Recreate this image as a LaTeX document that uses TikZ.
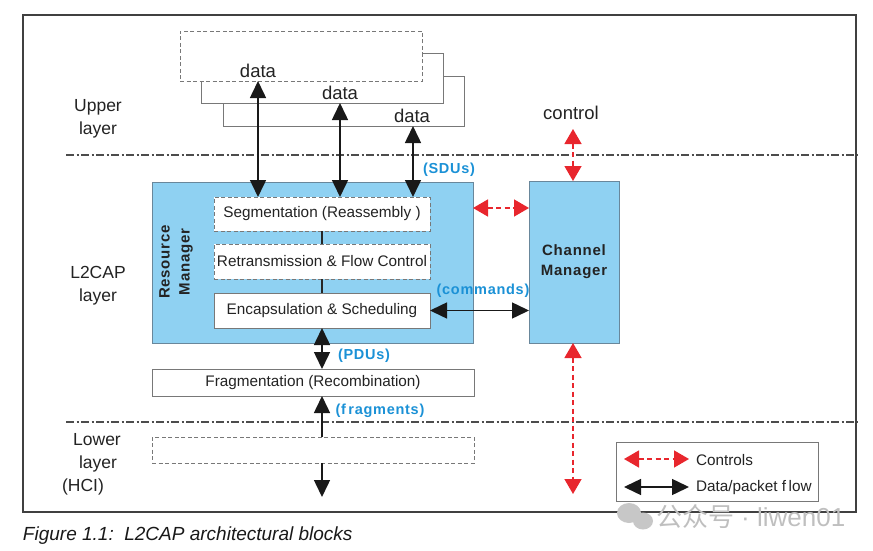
\documentclass[tikz,border=0pt]{standalone}
\usepackage{fontspec}
\setmainfont{Liberation Sans}
\newfontfamily\cjk{Noto Sans CJK SC}
\newfontfamily\spaced[LetterSpace=5]{Liberation Sans}
\usetikzlibrary{arrows.meta,calc}
\definecolor{rmblue}{RGB}{143,209,242}
\definecolor{rmedge}{RGB}{105,135,155}
\definecolor{lblblue}{RGB}{27,145,214}
\definecolor{ctlred}{RGB}{232,38,45}
\definecolor{boxgray}{RGB}{120,120,120}
\definecolor{txt}{RGB}{35,35,35}
\begin{document}
\begin{tikzpicture}[x=1pt,y=-1pt,
  every node/.style={inner sep=0pt,outer sep=0pt,text=txt},
  frame/.style={draw=black!75,line width=1.6pt},
  solidbox/.style={draw=boxgray,line width=0.8pt,fill=white},
  dashbox/.style={draw=boxgray,line width=0.8pt,fill=white,dash pattern=on 4pt off 2.5pt},
  bluebox/.style={draw=rmedge,line width=0.9pt,fill=rmblue},
  layerline/.style={draw=black!70,line width=1.2pt,dash pattern=on 8pt off 2.5pt on 2pt off 2.5pt},
  dflow/.style={line width=1.5pt,black!90,{Triangle[width=16pt,length=17pt]}-{Triangle[width=16pt,length=17pt]}},
  uflow/.style={line width=1.5pt,black!90,-{Triangle[width=16pt,length=17pt]}},
  ctl/.style={line width=1.5pt,ctlred,dash pattern=on 5pt off 3.5pt,{Triangle[width=17pt,length=15pt]}-{Triangle[width=17pt,length=15pt]}},
  lbl/.style={text=lblblue,font=\spaced\bfseries\fontsize{14.5}{16}\selectfont},
  boxtxt/.style={font=\fontsize{15.3}{18}\selectfont},
  datatxt/.style={font=\fontsize{18.5}{20}\selectfont},
  sidetxt/.style={font=\fontsize{17.5}{23}\selectfont,align=center},
  cmtxt/.style={font=\spaced\bfseries\fontsize{15}{20}\selectfont,align=center}
]
\useasboundingbox (0,0) rectangle (873,551);
% outer frame
\draw[frame] (23,15) rectangle (856,512);

% upper-layer data boxes
\node[solidbox,minimum width=241pt,minimum height=50pt] (d3) at (343.5,101) {};
\node[solidbox,minimum width=242pt,minimum height=50pt] (d2) at (322,78) {};
\node[dashbox,minimum width=242pt,minimum height=50pt] (d1) at (301,56) {};
\node[datatxt] (t1) at (258,71) {data};
\node[datatxt] (t2) at (340,93) {data};
\node[datatxt] (t3) at (412,116) {data};

% layer separators
\coordinate (L1a) at (66,155); \coordinate (L1b) at (858,155);
\coordinate (L2a) at (66,422); \coordinate (L2b) at (858,422);
\draw[layerline] (L1a) -- (L1b);
\draw[layerline] (L2a) -- (L2b);

% side labels
\node[sidetxt] (up) at (98,119) {Upper\\layer};
\node[sidetxt] (l2) at (98,286) {L2CAP\\layer};
\node[sidetxt] (lo1) at (97,440) {Lower};
\node[sidetxt] (lo2) at (98,464) {layer};
\node[sidetxt] (lo3) at (83,487) {(HCI)};

% resource manager
\node[bluebox,minimum width=321pt,minimum height=161pt] (rm) at (312.5,262.5) {};
\node[cmtxt,rotate=90] (rmt) at (176,262) {Resource\\Manager};
\node[dashbox,minimum width=216pt,minimum height=34pt] (seg) at (322,214) {};
\node[boxtxt] (segt) at (seg) {Segmentation (Reassembly )};
\node[dashbox,minimum width=216pt,minimum height=35pt] (ret) at (322,261.5) {};
\node[boxtxt] (rett) at (ret) {Retransmission \& Flow Control};
\node[solidbox,minimum width=216pt,minimum height=35pt] (enc) at (322,310.5) {};
\node[boxtxt] (enct) at (enc) {Encapsulation \& Scheduling};
\draw[line width=1.3pt,black!85] (seg) -- (ret);
\draw[line width=1.3pt,black!85] (ret) -- (enc);

% channel manager
\node[bluebox,minimum width=90pt,minimum height=162pt] (cm) at (574,262) {};
\node[cmtxt] (cmt) at (cm) {Channel\\Manager};
\node[datatxt] (ctrl) at (571,113) {control};

% fragmentation and lower layer
\node[solidbox,minimum width=322pt,minimum height=27pt] (frag) at (313,382.5) {};
\node[boxtxt] (fragt) at (frag) {Fragmentation (Recombination)};
\node[dashbox,minimum width=322pt,minimum height=26pt] (hci) at (313,450) {};
\coordinate (hciout) at (322,497);
\coordinate (cmout) at (573,494);
\coordinate (ctrlin) at (573,129);

% data flows from upper layer
\draw[dflow] (d1.south -| t1) -- (seg.north -| t1);
\draw[dflow] (d2.south -| t2) -- (seg.north -| t2);
\draw[dflow] (d3.south -| 413,0) -- (seg.north -| 413,0);
\node[lbl] (sdu) at (449,170) {(SDUs)};

% commands
\draw[dflow] (enc.east) -- (enc.east -| cm.west);
\node[lbl] (cmd) at (483,291) {(commands)};

% PDUs
\draw[dflow] (enc.south) -- (frag.north -| enc);
\node[lbl] (pdu) at (364,356) {(PDUs)};
\draw[uflow] (hci.north -| enc) -- (frag.south -| enc);
\node[lbl] (frg) at (380,411) {(f\,ragments)};
\draw[uflow] (hci.south -| enc) -- (hciout);

% controls
\draw[ctl] (ctrlin) -- (cm.north -| ctrlin);
\draw[ctl] (rm.east |- 0,208) -- (cm.west |- 0,208);
\draw[ctl] (cm.south -| cmout) -- (cmout);

% legend
\node[draw=boxgray,line width=0.8pt,minimum width=202pt,minimum height=59pt] (leg) at (717,471.5) {};
\coordinate (lg1a) at (624,459); \coordinate (lg1b) at (689,459);
\coordinate (lg2a) at (624,487); \coordinate (lg2b) at (689,487);
\draw[ctl] (lg1a) -- (lg1b);
\draw[dflow] (lg2a) -- (lg2b);
\node[boxtxt,anchor=west] (lgt1) at (696,460) {Controls};
\node[boxtxt,anchor=west] (lgt2) at (696,488) {Data/packet f\,low};

% caption
\node[anchor=west,font=\itshape\fontsize{19}{21}\selectfont,text=black!90] (cap) at (23,536) {Figure 1.1:\ \ L2CAP architectural blocks};

% watermark
\fill[black!22] (629,513) ellipse (12pt and 10pt);
\fill[black!22] (643,521) ellipse (10pt and 8.5pt);
\node[anchor=west,text=black!25,font=\fontsize{26}{28}\selectfont] (wm) at (656,517) {{\cjk 公众号} · liwen01};
\end{tikzpicture}
\end{document}
